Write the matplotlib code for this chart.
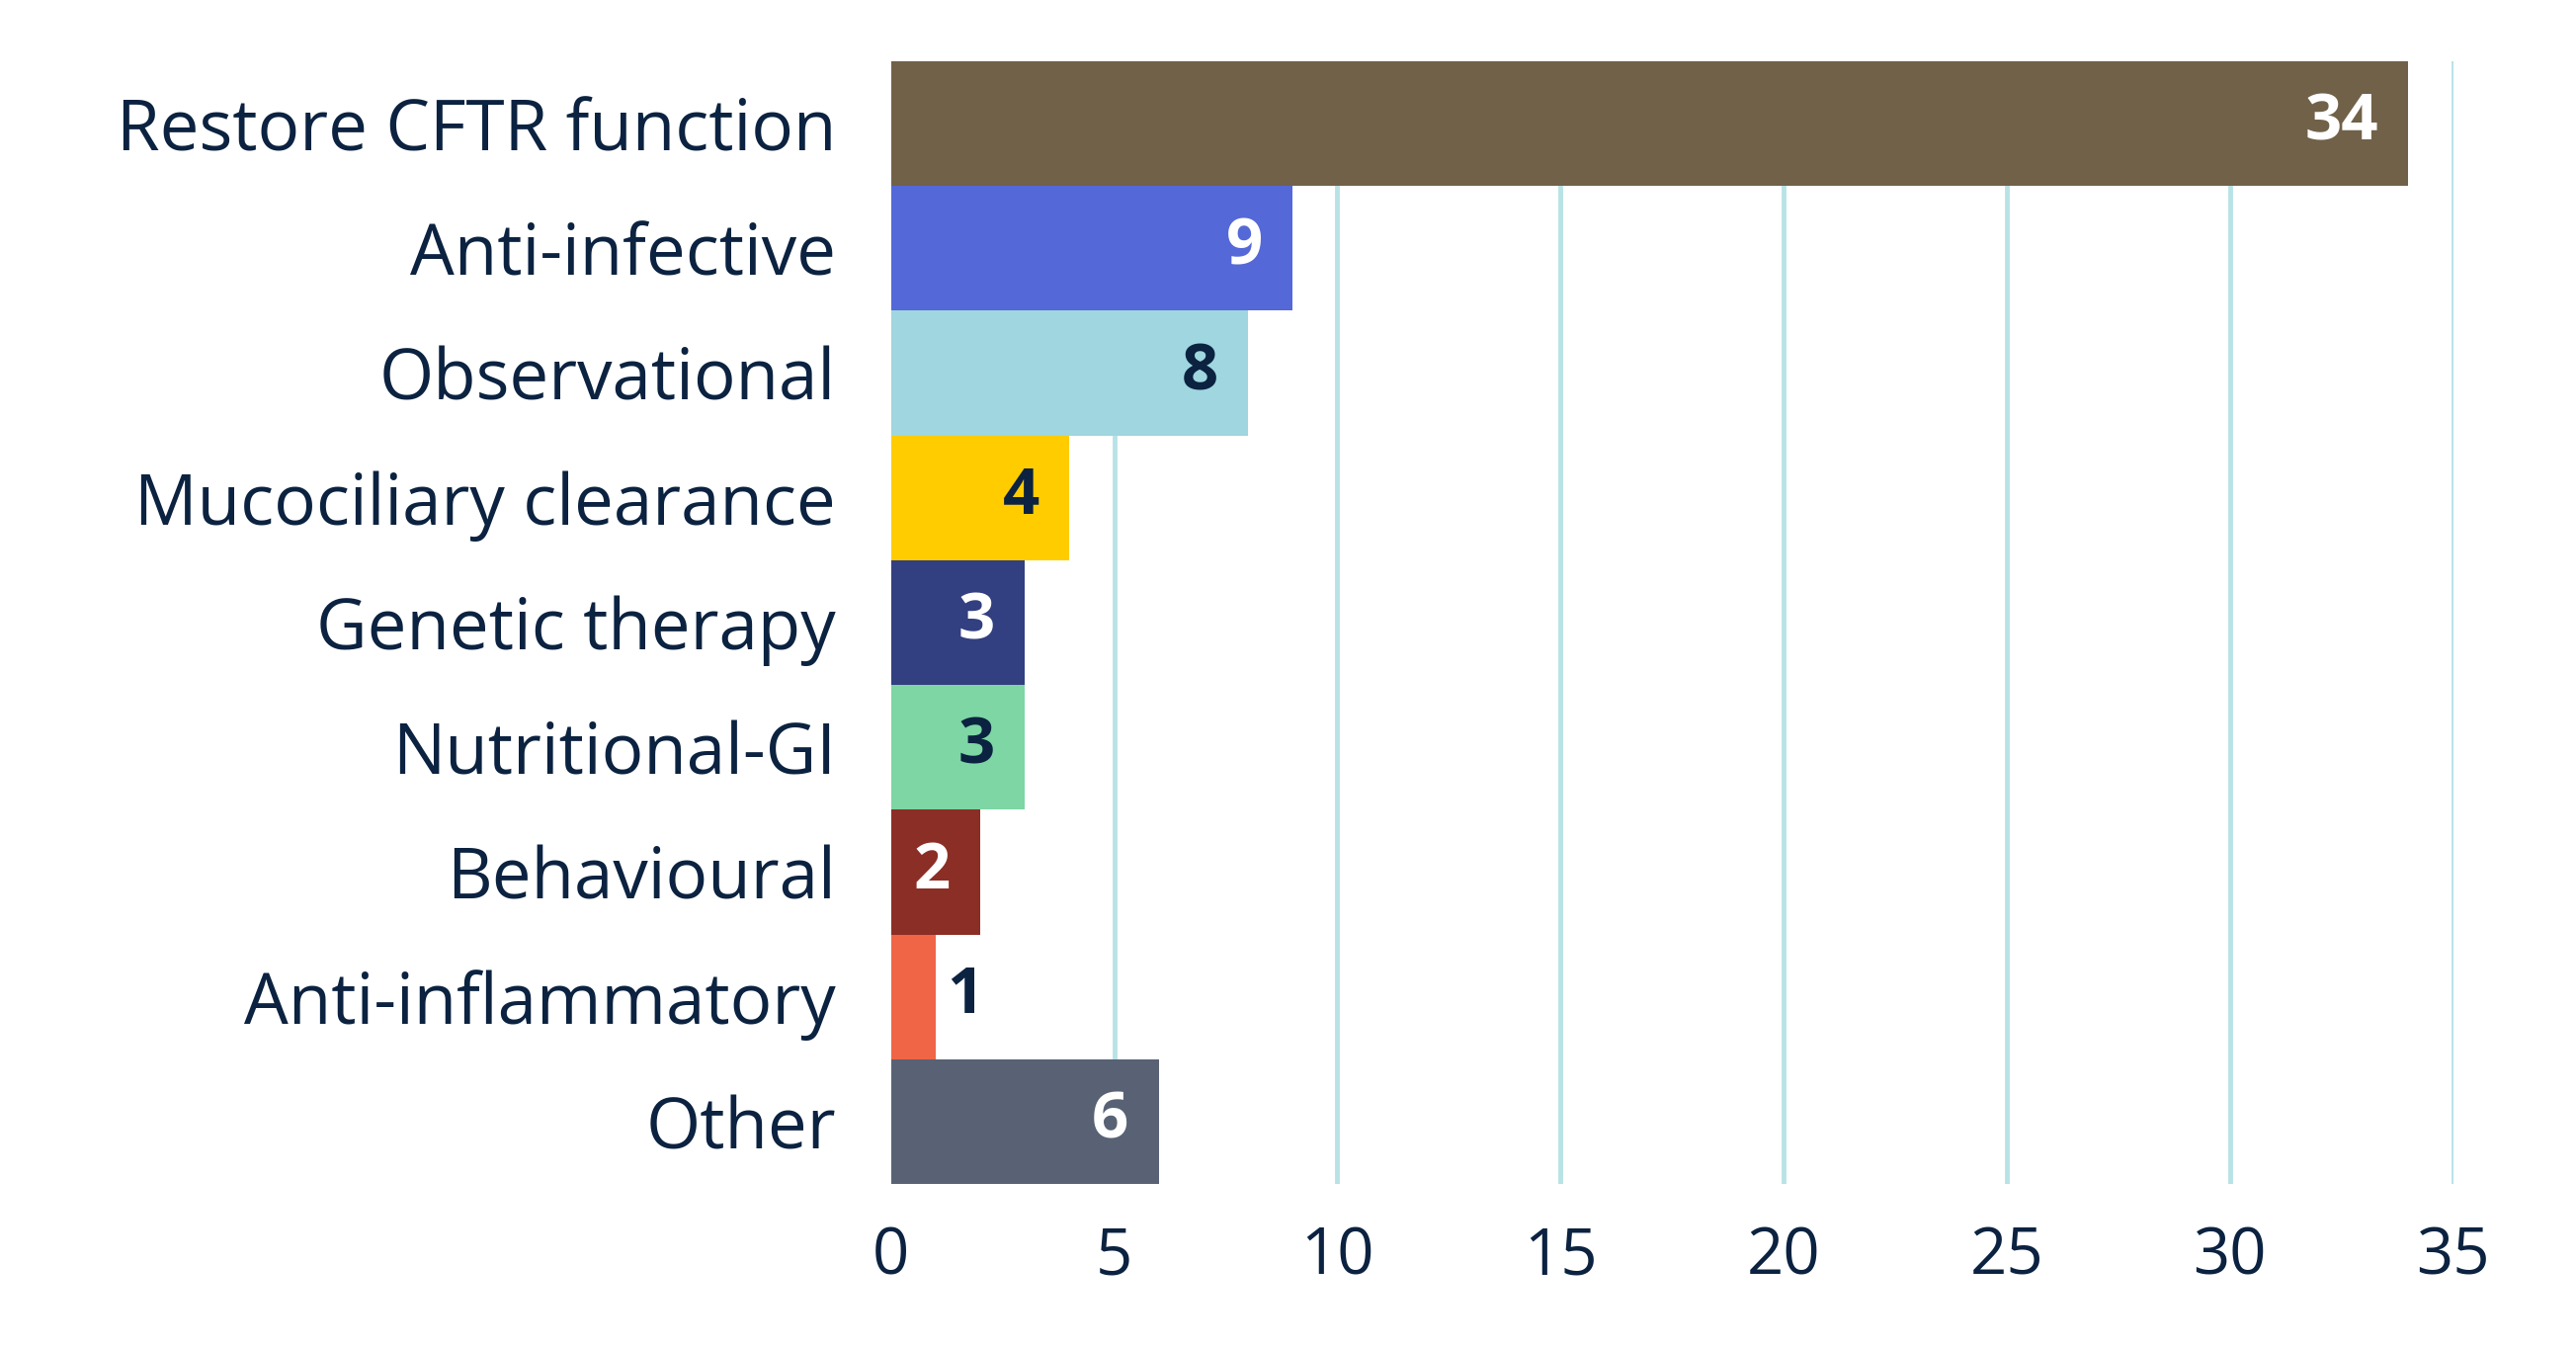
import matplotlib
matplotlib.use("Agg")
import matplotlib.pyplot as plt

# ---------------- Data ----------------
categories = [
    "Restore CFTR function",
    "Anti-infective",
    "Observational",
    "Mucociliary clearance",
    "Genetic therapy",
    "Nutritional-GI",
    "Behavioural",
    "Anti-inflammatory",
    "Other",
]
counts = [34, 9, 8, 4, 3, 3, 2, 1, 6]
bar_colors = ["#716148", "#5468d8", "#9fd6df", "#ffcc00", "#323f80",
              "#7dd6a4", "#8b2e25", "#ef6546", "#586274"]
label_colors = ["white", "white", "#0b2240", "#0b2240", "white",
                "#0b2240", "white", "#0b2240", "white"]
x_ticks = [0, 5, 10, 15, 20, 25, 30, 35]

NAVY = "#0b2240"
GRID = "#b8e2e6"

plt.rcParams["font.family"] = ["Open Sans", "DejaVu Sans"]

fig = plt.figure(figsize=(26.07, 13.63), dpi=100)
ax = fig.add_axes([0.3459, 0.1211, 0.6064, 0.8334])

ypos = list(range(len(categories)))
ax.barh(ypos, counts, height=1.0, color=bar_colors, zorder=2)

# value labels: inside the bar end, outside for the tiny bar
for y, v, c in zip(ypos, counts, label_colors):
    if v >= 2:
        ax.annotate(str(v), (v, y), xytext=(-22, 0), textcoords="offset points",
                    ha="right", va="center", fontsize=47, fontweight="bold",
                    color=c, zorder=3)
    else:
        ax.annotate(str(v), (v, y), xytext=(8, 0), textcoords="offset points",
                    ha="left", va="center", fontsize=47, fontweight="bold",
                    color=c, zorder=3)

ax.set_xlim(0, 35)
ax.set_ylim(len(categories) - 0.5, -0.5)
ax.set_yticks(ypos)
ax.set_yticklabels(categories)
ax.set_xticks(x_ticks)

for x in x_ticks:
    ax.axvline(x, color=GRID, lw=3.5, zorder=1)

for s in ax.spines.values():
    s.set_visible(False)

ax.tick_params(axis="y", length=0, pad=40, labelsize=51, labelcolor=NAVY)
ax.tick_params(axis="x", length=0, pad=30, labelsize=47, labelcolor=NAVY)

fig.savefig("out.png", dpi=100, facecolor="white")
